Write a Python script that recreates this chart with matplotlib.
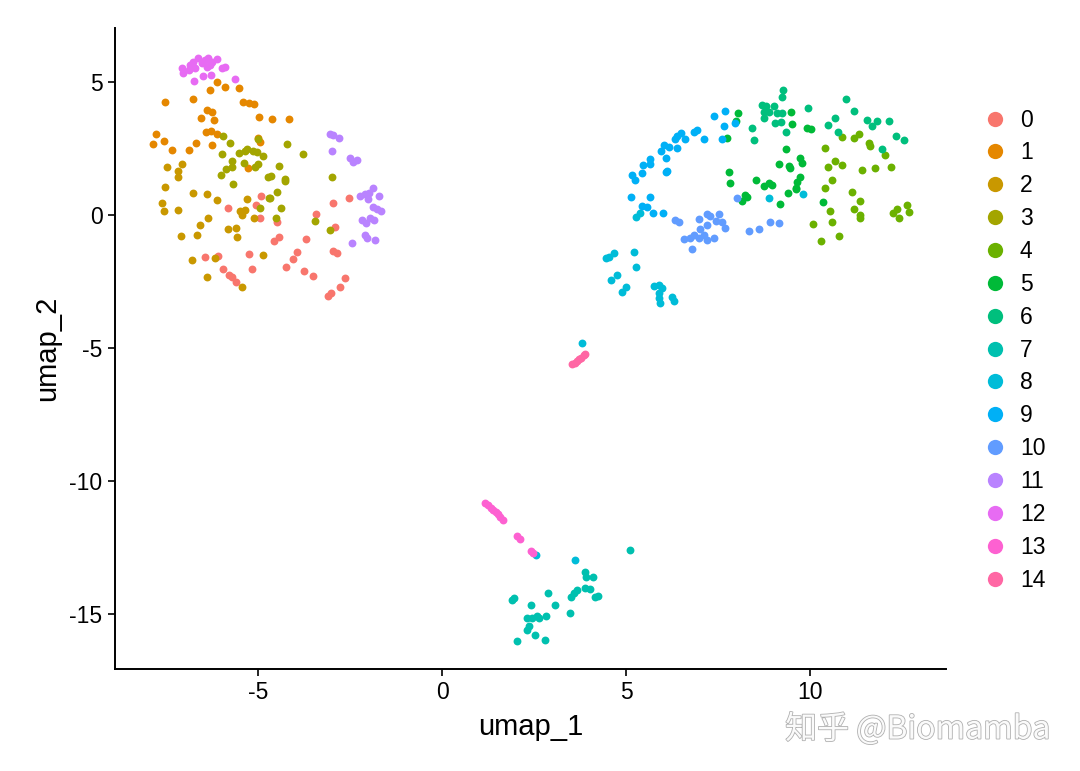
import matplotlib
matplotlib.use("Agg")
import matplotlib.pyplot as plt
import matplotlib.patheffects as pe
from matplotlib.lines import Line2D

plt.rcParams['font.family'] = ['Liberation Sans', 'DejaVu Sans']
plt.rcParams['axes.unicode_minus'] = False

# cluster labels and ggplot hue colours
clusters = [str(i) for i in range(15)]
colors = ["#F8766D", "#E58700", "#C99800", "#A3A500", "#6BB100", "#00BA38", "#00BF7D",
          "#00C0AF", "#00BCD8", "#00B0F6", "#619CFF", "#B983FF", "#E76BF3", "#FD61D1", "#FF67A4"]

# umap coordinates, one list per cluster
cluster_0 = [(-4.93, 0.71), (-5.06, 0.38), (-4.97, -0.12), (-5.84, 0.25), (-6.44, -1.58), (-6.11, -1.54),
             (-5.25, -1.47), (-5.18, -2.04), (-5.97, -2.04), (-5.81, -2.26), (-5.72, -2.32), (-5.61, -2.51),
             (-4.50, -0.25), (-2.96, 0.44), (-2.53, 0.63), (-3.43, 0.03), (-2.91, -0.46), (-4.59, -0.97),
             (-4.45, -0.82), (-3.70, -0.91), (-3.94, -1.40), (-4.07, -1.67), (-4.25, -1.94), (-2.96, -1.34),
             (-2.87, -1.44), (-3.75, -2.11), (-3.52, -2.28), (-2.65, -2.38), (-2.79, -2.70), (-3.02, -2.94),
             (-3.11, -3.03)]
cluster_1 = [(-6.13, 5.01), (-5.90, 4.82), (-5.52, 4.79), (-6.33, 4.69), (-7.54, 4.24), (-6.78, 4.35),
             (-5.41, 4.24), (-5.27, 4.22), (-5.13, 4.17), (-6.40, 3.95), (-6.27, 3.88), (-6.57, 3.66),
             (-6.20, 3.56), (-4.98, 3.70), (-4.63, 3.61), (-4.18, 3.60), (-6.43, 3.13), (-6.29, 3.17),
             (-6.13, 3.03), (-7.78, 3.06), (-7.88, 2.66), (-7.56, 2.78), (-7.34, 2.44), (-6.88, 2.45),
             (-6.71, 2.71), (-6.26, 2.62), (-4.97, 2.73), (-5.00, 2.88), (-5.29, 1.76)]
cluster_2 = [(-7.49, 1.79), (-7.08, 1.92), (-7.20, 1.67), (-7.20, 1.42), (-7.54, 1.04), (-6.79, 0.82),
             (-6.40, 0.78), (-6.13, 0.56), (-7.63, 0.46), (-7.58, 0.15), (-7.20, 0.19), (-6.38, -0.10),
             (-6.59, -0.36), (-7.11, -0.78), (-6.67, -0.75), (-5.84, -0.51), (-5.62, -0.50), (-5.58, -0.84),
             (-6.81, -1.69), (-6.39, -2.34), (-5.45, -2.70), (-5.50, 0.15), (-5.36, 0.19), (-5.45, 0.00),
             (-5.30, 0.61), (-5.13, -0.11), (-4.88, -1.50), (-6.18, -1.63)]
cluster_3 = [(-5.97, 2.97), (-5.77, 2.70), (-5.52, 2.32), (-5.36, 2.41), (-5.31, 2.48), (-5.15, 2.42),
             (-5.98, 2.29), (-5.72, 2.03), (-4.88, 2.22), (-5.88, 1.72), (-5.72, 1.79), (-6.01, 1.50),
             (-5.38, 1.94), (-5.09, 1.82), (-5.00, 1.92), (-5.70, 1.17), (-4.73, 1.44), (-4.95, 0.25),
             (-4.70, 0.63), (-5.00, 2.86), (-4.23, 2.66), (-3.79, 2.28), (-4.44, 1.84), (-4.65, 1.47),
             (-4.27, 1.34), (-3.00, 1.44), (-4.27, 1.28), (-4.50, 0.88), (-4.68, 0.63), (-4.39, 0.27),
             (-4.52, -0.12), (-3.47, -0.21), (-3.05, -0.56), (-5.05, 2.36)]
cluster_4 = [(10.88, 2.94), (11.19, 2.91), (11.33, 3.05), (11.60, 2.72), (11.63, 2.59), (12.05, 2.26),
             (10.42, 2.53), (10.69, 2.03), (10.86, 1.88), (10.50, 1.82), (11.42, 1.69), (11.76, 1.76),
             (12.19, 1.82), (10.60, 1.32), (10.42, 1.00), (11.13, 0.88), (11.36, 0.54), (11.19, 0.21),
             (11.36, 0.00), (11.36, -0.12), (10.54, 0.16), (10.60, -0.25), (10.08, -0.34), (10.29, -0.97),
             (10.78, -0.78), (12.26, 0.06), (12.37, 0.21), (12.42, -0.12), (12.65, 0.38), (12.69, 0.12)]
cluster_5 = [(8.04, 3.82), (7.99, 3.55), (7.73, 2.91), (7.79, 1.63), (7.82, 1.19), (8.52, 1.32),
             (9.92, 3.28), (10.03, 3.22), (9.35, 2.48), (9.74, 2.15), (9.79, 1.97), (9.42, 1.84),
             (9.45, 1.76), (9.15, 1.91), (8.74, 1.09), (8.88, 1.19), (8.97, 1.13), (9.65, 1.25),
             (9.72, 1.42), (9.61, 1.00), (9.40, 0.82), (8.24, 0.75), (9.63, 0.97), (9.18, 0.41),
             (8.29, 0.69), (8.15, 0.54), (10.35, 0.50), (9.47, 3.88), (9.52, 3.41)]
cluster_6 = [(8.43, 3.26), (8.49, 2.82), (9.26, 4.70), (9.24, 4.45), (8.70, 4.14), (8.79, 4.10),
             (9.02, 4.10), (8.74, 3.88), (8.88, 3.88), (9.11, 3.82), (9.24, 3.82), (8.76, 3.64),
             (9.06, 3.45), (9.20, 3.51), (9.35, 3.13), (9.94, 4.03), (10.97, 4.36), (11.19, 3.91),
             (10.68, 3.64), (10.50, 3.38), (11.56, 3.57), (11.69, 3.36), (11.83, 3.55), (12.16, 3.55),
             (12.33, 2.97), (12.55, 2.82), (10.77, 3.13), (11.96, 2.47)]
cluster_7 = [(5.10, -12.59), (3.89, -13.41), (3.92, -13.62), (4.10, -13.62), (3.89, -14.01), (4.03, -14.07),
             (3.67, -14.10), (3.59, -14.22), (3.51, -14.37), (4.16, -14.37), (4.24, -14.32), (2.88, -14.22),
             (3.06, -14.66), (3.46, -14.98), (1.90, -14.47), (1.95, -14.40), (2.41, -14.66), (2.30, -15.16),
             (2.44, -15.16), (2.58, -15.08), (2.62, -15.16), (2.83, -15.08), (2.35, -15.45), (2.30, -15.60),
             (2.53, -15.79), (2.80, -15.98), (2.03, -16.00)]
cluster_8 = [(4.44, -1.63), (4.53, -1.57), (4.66, -1.44), (5.21, -1.38), (5.27, -1.94), (4.59, -2.44),
             (4.75, -2.26), (4.89, -2.88), (4.99, -2.72), (5.75, -2.66), (5.89, -2.63), (5.98, -2.73),
             (5.89, -2.94), (5.89, -3.13), (5.93, -3.32), (6.25, -3.09), (6.29, -3.23), (5.27, -0.06),
             (5.39, 0.06), (8.88, 0.63), (9.81, 0.79), (3.80, -4.82), (2.56, -12.78), (3.62, -12.97)]
cluster_9 = [(7.38, 3.72), (7.68, 3.92), (7.65, 3.35), (7.97, 3.45), (7.61, 2.85), (7.11, 2.85),
             (6.93, 3.20), (6.84, 3.13), (6.59, 2.86), (6.48, 3.07), (6.37, 2.97), (6.34, 2.85),
             (6.39, 2.53), (6.16, 2.57), (6.02, 2.63), (5.95, 2.41), (6.07, 2.13), (5.66, 2.11),
             (5.64, 1.92), (5.46, 1.88), (5.43, 1.59), (5.16, 1.50), (5.25, 1.32), (6.07, 1.63),
             (6.11, 1.67), (5.12, 0.67), (5.64, 0.69), (5.43, 0.34), (5.57, 0.31), (5.73, 0.09),
             (6.01, 0.06)]
cluster_10 = [(6.34, -0.19), (6.43, -0.25), (6.97, -0.15), (7.20, 0.04), (7.29, -0.04), (7.52, 0.04),
              (7.43, -0.21), (7.61, -0.25), (7.70, -0.50), (7.20, -0.38), (7.02, -0.54), (6.57, -0.90),
              (6.73, -0.88), (6.84, -0.75), (6.98, -0.88), (7.11, -0.75), (7.20, -0.94), (7.40, -0.88),
              (6.79, -1.28), (8.33, -0.59), (8.61, -0.54), (8.02, 0.63), (8.90, -0.25), (9.15, -0.31)]
cluster_11 = [(-3.05, 3.05), (-2.96, 3.01), (-2.82, 2.88), (-2.99, 2.41), (-2.50, 2.15), (-2.43, 2.00),
              (-2.32, 2.07), (-2.23, 0.71), (-2.10, 0.79), (-1.98, 0.84), (-1.89, 1.00), (-1.73, 0.71),
              (-2.01, 0.59), (-1.89, 0.29), (-1.78, 0.21), (-1.67, 0.16), (-2.19, -0.19), (-2.07, -0.29),
              (-1.96, -0.12), (-1.85, -0.19), (-2.10, -0.75), (-2.05, -0.88), (-1.82, -0.94), (-2.46, -1.06)]
cluster_12 = [(-7.08, 5.52), (-7.04, 5.33), (-6.86, 5.64), (-6.77, 5.76), (-6.63, 5.89), (-6.54, 5.70),
              (-6.45, 5.83), (-6.36, 5.89), (-6.27, 5.76), (-6.13, 5.86), (-6.72, 5.52), (-6.90, 5.45),
              (-6.40, 5.58), (-6.31, 5.64), (-5.99, 5.52), (-5.90, 5.58), (-6.50, 5.24), (-6.29, 5.26),
              (-6.74, 5.04), (-5.65, 5.11)]
cluster_13 = [(1.17, -10.84), (1.25, -10.92), (1.32, -11.00), (1.38, -11.08), (1.45, -11.15), (1.52, -11.25),
              (1.58, -11.35), (1.65, -11.45), (2.03, -12.06), (2.12, -12.19), (2.42, -12.63), (2.48, -12.72)]
cluster_14 = [(3.53, -5.62), (3.60, -5.55), (3.66, -5.48), (3.72, -5.42), (3.78, -5.36), (3.84, -5.28),
              (3.88, -5.22)]

all_clusters = [cluster_0, cluster_1, cluster_2, cluster_3, cluster_4, cluster_5, cluster_6, cluster_7,
                cluster_8, cluster_9, cluster_10, cluster_11, cluster_12, cluster_13, cluster_14]

fig = plt.figure(figsize=(10.8, 7.71), dpi=100)
ax = fig.add_axes([0.1065, 0.1323, 0.7695, 0.8314])

for name, col, pts in zip(clusters, colors, all_clusters):
    xs = [p[0] for p in pts]
    ys = [p[1] for p in pts]
    ax.scatter(xs, ys, s=32, color=col, linewidths=0)

ax.set_xlim(-8.9, 13.7)
ax.set_ylim(-17.07, 7.03)
ax.set_xticks([-5, 0, 5, 10])
ax.set_yticks([5, 0, -5, -10, -15])
for s in ['top', 'right']:
    ax.spines[s].set_visible(False)
for s in ['left', 'bottom']:
    ax.spines[s].set_linewidth(1.4)
ax.tick_params(labelsize=16.5, width=1.2, length=5, colors='black', pad=4)
ax.set_xlabel('umap_1', fontsize=21, labelpad=6)
ax.set_ylabel('umap_2', fontsize=21, labelpad=6)

handles = [Line2D([], [], marker='o', linestyle='', markersize=11, color=c, markeredgewidth=0)
           for c in colors]
fig.legend(handles, clusters, loc='upper left', bbox_to_anchor=(0.902, 0.871), frameon=False,
           fontsize=16.5, labelspacing=0.43, handletextpad=0.6, handlelength=1.0, borderaxespad=0)

fig.text(0.727, 0.042, '知乎 @Biomamba', fontsize=23, color='#fafafa',
         family=['Noto Sans CJK SC', 'DejaVu Sans'],
         path_effects=[pe.withStroke(linewidth=1.2, foreground='#b0b0b0')])

fig.savefig('out.png', dpi=100)
